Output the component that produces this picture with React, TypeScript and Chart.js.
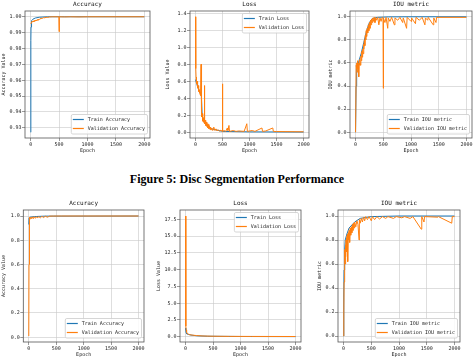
import React, { useEffect, useRef } from 'react';
import { Chart, registerables } from 'chart.js';

Chart.register(...registerables);

const MONO = "'DejaVu Sans Mono', monospace";
const BLUE = '#1f77b4';
const ORANGE = '#ff7f0e';

// ---------- shared ----------
const xTicks = [0, 500, 1000, 1500, 2000];
const caption = 'Figure 5: Disc Segmentation Performance';

// ---------- top row: accuracy ----------
const accTopTicks = [0.93, 0.94, 0.95, 0.96, 0.97, 0.98, 0.99, 1.0];
const accTopTrainEpoch = [0, 2, 4, 6, 10, 20, 40, 80, 150, 300, 600, 1000, 1500, 1999];
const accTopTrainValue = [0.9272, 0.962, 0.985, 0.9935, 0.9962, 0.9975, 0.9985, 0.9992, 0.9997, 1.0, 1.0, 1.0, 1.0, 1.0];
const accTopValEpoch = [4, 8, 14, 20, 28, 36, 44, 52, 60, 70, 80, 90, 100, 110, 120, 130, 140, 150, 165, 180, 195, 210, 230, 250, 270, 300, 330, 380, 450, 496, 500, 504, 600, 700, 850, 1000, 1300, 1999];
const accTopValValue = [0.9956, 0.9962, 0.9968, 0.9964, 0.997, 0.9967, 0.9973, 0.9969, 0.9976, 0.9971, 0.9978, 0.9974, 0.998, 0.9976, 0.9983, 0.9979, 0.9986, 0.9982, 0.9989, 0.9986, 0.9992, 0.999, 0.9995, 0.9993, 0.9997, 0.9996, 0.9999, 1.0, 1.0, 1.0, 0.9906, 1.0, 0.9999, 1.0, 0.9999, 1.0, 1.0, 1.0];

// ---------- top row: loss ----------
const lossTopTicks = [0.0, 0.2, 0.4, 0.6, 0.8, 1.0, 1.2, 1.4];
const lossTopTrainEpoch = [0, 20, 50, 80, 110, 125, 150, 200, 300, 500, 1000, 1999];
const lossTopTrainValue = [0.62, 0.58, 0.52, 0.47, 0.44, 0.2, 0.13, 0.08, 0.04, 0.01, 0.004, 0.002];
const lossTopValEpoch = [2, 5, 8, 12, 16, 20, 25, 30, 35, 40, 45, 50, 55, 60, 65, 70, 75, 80, 85, 90, 95, 100, 104, 107, 110, 115, 120, 125, 130, 135, 140, 145, 150, 155, 160, 165, 168, 175, 180, 190, 200, 210, 220, 230, 240, 250, 260, 270, 280, 290, 300, 320, 340, 360, 380, 400, 420, 450, 470, 495, 500, 505, 530, 560, 590, 600, 620, 630, 700, 750, 800, 900, 950, 960, 1050, 1100, 1230, 1240, 1300, 1430, 1440, 1500, 1999];
const lossTopValValue = [1.36, 1.0, 0.75, 0.65, 0.6, 0.63, 0.57, 0.6, 0.55, 0.58, 0.52, 0.55, 0.5, 0.53, 0.48, 0.5, 0.46, 0.49, 0.45, 0.47, 0.43, 0.45, 0.8, 0.42, 0.44, 0.3, 0.18, 0.22, 0.15, 0.2, 0.13, 0.17, 0.12, 0.15, 0.11, 0.55, 0.12, 0.1, 0.14, 0.08, 0.12, 0.07, 0.1, 0.05, 0.09, 0.04, 0.07, 0.03, 0.06, 0.03, 0.05, 0.02, 0.06, 0.02, 0.04, 0.015, 0.03, 0.01, 0.025, 0.01, 0.57, 0.01, 0.02, 0.01, 0.05, 0.02, 0.08, 0.01, 0.02, 0.01, 0.015, 0.01, 0.1, 0.01, 0.02, 0.01, 0.05, 0.01, 0.015, 0.05, 0.01, 0.008, 0.005];

// ---------- top row: IOU ----------
const iouTicks = [0.0, 0.2, 0.4, 0.6, 0.8, 1.0];
const iouTopTrainEpoch = [0, 10, 20, 50, 100, 150, 200, 250, 300, 400, 600, 1000, 1999];
const iouTopTrainValue = [0, 0.4, 0.55, 0.6, 0.68, 0.78, 0.88, 0.95, 0.985, 0.995, 0.999, 1.0, 1.0];
const iouTopValEpoch = [0, 8, 12, 18, 24, 30, 36, 42, 48, 55, 60, 65, 72, 80, 88, 96, 104, 112, 120, 128, 136, 144, 152, 160, 168, 176, 184, 192, 200, 210, 220, 230, 240, 250, 260, 270, 280, 290, 300, 310, 320, 335, 350, 365, 380, 400, 420, 440, 460, 480, 496, 500, 504, 530, 550, 580, 590, 620, 650, 700, 710, 760, 800, 850, 860, 920, 930, 1000, 1010, 1080, 1090, 1150, 1200, 1250, 1260, 1300, 1310, 1400, 1410, 1450, 1460, 1999];
const iouTopValValue = [0, 0, 0.58, 0.55, 0.6, 0.52, 0.62, 0.55, 0.6, 0.5, 0.48, 0.6, 0.58, 0.63, 0.58, 0.66, 0.62, 0.7, 0.65, 0.72, 0.68, 0.76, 0.72, 0.8, 0.75, 0.84, 0.8, 0.88, 0.83, 0.9, 0.86, 0.93, 0.88, 0.95, 0.9, 0.97, 0.93, 0.98, 0.95, 0.99, 0.96, 0.995, 0.95, 0.99, 0.97, 0.995, 0.93, 0.99, 0.96, 0.995, 0.99, 0.38, 0.99, 0.95, 0.995, 0.9, 0.99, 0.96, 0.995, 0.93, 0.99, 0.97, 0.995, 0.95, 0.99, 0.9, 0.995, 0.96, 0.99, 0.94, 0.995, 0.97, 0.995, 0.93, 0.99, 0.97, 0.995, 0.93, 0.99, 0.95, 0.995, 0.995];

// ---------- bottom row: accuracy ----------
const accBotTicks = [0.0, 0.2, 0.4, 0.6, 0.8, 1.0];
const accBotTrainEpoch = [0, 5, 20, 100, 300, 1999];
const accBotTrainValue = [0.93, 0.985, 0.99, 0.995, 0.999, 1.0];
const accBotValEpoch = [0, 4, 6, 12, 20, 30, 40, 55, 70, 85, 100, 120, 140, 160, 180, 210, 240, 270, 300, 340, 380, 450, 600, 1000, 1999];
const accBotValValue = [0.01, 0.6, 0.985, 0.975, 0.99, 0.976, 0.991, 0.978, 0.993, 0.979, 0.994, 0.981, 0.995, 0.983, 0.996, 0.985, 0.997, 0.987, 0.998, 0.99, 0.999, 0.9995, 1.0, 1.0, 1.0];

// ---------- bottom row: loss ----------
const lossBotTicks = [0.0, 2.5, 5.0, 7.5, 10.0, 12.5, 15.0, 17.5];
const lossBotTrainEpoch = [0, 5, 10, 20, 50, 100, 200, 400, 1000, 1999];
const lossBotTrainValue = [1.3, 1.0, 0.6, 0.45, 0.35, 0.25, 0.15, 0.08, 0.04, 0.02];
const lossBotValEpoch = [2, 4, 6, 8, 12, 20, 30, 50, 80, 120, 200, 300, 500, 800, 1200, 1999];
const lossBotValValue = [18.0, 8.0, 3.0, 1.6, 1.0, 0.7, 0.5, 0.4, 0.3, 0.25, 0.18, 0.12, 0.08, 0.06, 0.05, 0.04];

// ---------- bottom row: IOU ----------
const iouBotTrainEpoch = [0, 5, 10, 20, 30, 60, 100, 200, 300, 500, 1000, 1999];
const iouBotTrainValue = [0, 0.35, 0.55, 0.72, 0.8, 0.85, 0.9, 0.95, 0.98, 0.995, 1.0, 1.0];
const iouBotValEpoch = [0, 5, 10, 15, 20, 25, 30, 35, 40, 45, 50, 55, 60, 65, 70, 75, 80, 85, 90, 100, 110, 120, 130, 140, 150, 160, 170, 180, 190, 200, 220, 240, 260, 280, 285, 300, 320, 340, 360, 380, 400, 430, 460, 500, 520, 560, 600, 650, 700, 760, 800, 900, 950, 1050, 1100, 1200, 1250, 1400, 1410, 1450, 1460, 1700, 1710, 1950, 1960, 1999];
const iouBotValValue = [0, 0.2, 0.45, 0.6, 0.53, 0.72, 0.6, 0.76, 0.66, 0.8, 0.7, 0.82, 0.72, 0.84, 0.74, 0.85, 0.62, 0.86, 0.8, 0.88, 0.78, 0.9, 0.84, 0.91, 0.86, 0.93, 0.88, 0.94, 0.9, 0.95, 0.91, 0.96, 0.93, 0.8, 0.97, 0.94, 0.98, 0.95, 0.99, 0.96, 0.995, 0.97, 0.995, 0.96, 0.995, 0.97, 0.995, 0.975, 0.995, 0.98, 0.995, 0.98, 0.995, 0.985, 0.995, 0.98, 0.995, 0.89, 0.995, 0.95, 0.995, 0.99, 0.995, 0.94, 0.995, 0.995];

type Series = { x: number[]; y: number[] };
type Panel = {
  left: number; top: number; width: number; height: number;
  padRight: number; yWidth: number; yTitleOffset: number; xHeight: number;
  title: string; yTitle: string; yMin: number; yMax: number;
  yTicks: number[]; yDecimals: number;
  train: Series; val: Series; trainLabel: string; valLabel: string;
  legendLoc: 'lr' | 'ur';
};

const panels: Panel[] = [
  {
    left: 0, top: 0, width: 157.5, height: 154.5, padRight: 8, yWidth: 25, yTitleOffset: 4, xHeight: 17,
    title: 'Accuracy', yTitle: 'Accuracy Value', yMin: 0.92356, yMax: 1.00364, yTicks: accTopTicks, yDecimals: 2,
    train: { x: accTopTrainEpoch, y: accTopTrainValue }, val: { x: accTopValEpoch, y: accTopValValue },
    trainLabel: 'Train Accuracy', valLabel: 'Validation Accuracy', legendLoc: 'lr',
  },
  {
    left: 160, top: 0, width: 157, height: 154.5, padRight: 8, yWidth: 30, yTitleOffset: 8, xHeight: 17,
    title: 'Loss', yTitle: 'Loss Value', yMin: -0.068, yMax: 1.428, yTicks: lossTopTicks, yDecimals: 1,
    train: { x: lossTopTrainEpoch, y: lossTopTrainValue }, val: { x: lossTopValEpoch, y: lossTopValValue },
    trainLabel: 'Train Loss', valLabel: 'Validation Loss', legendLoc: 'ur',
  },
  {
    left: 325, top: 0, width: 149, height: 154.5, padRight: 2, yWidth: 25, yTitleOffset: 5.7, xHeight: 17,
    title: 'IOU metric', yTitle: 'IOU metric', yMin: -0.05, yMax: 1.05, yTicks: iouTicks, yDecimals: 1,
    train: { x: iouTopTrainEpoch, y: iouTopTrainValue }, val: { x: iouTopValEpoch, y: iouTopValValue },
    trainLabel: 'Train IOU metric', valLabel: 'Validation IOU metric', legendLoc: 'lr',
  },
  {
    left: 0, top: 199, width: 152.3, height: 159.5, padRight: 8, yWidth: 23.3, yTitleOffset: 3.5, xHeight: 17,
    title: 'Accuracy', yTitle: 'Accuracy Value', yMin: -0.0395, yMax: 1.0495, yTicks: accBotTicks, yDecimals: 1,
    train: { x: accBotTrainEpoch, y: accBotTrainValue }, val: { x: accBotValEpoch, y: accBotValValue },
    trainLabel: 'Train Accuracy', valLabel: 'Validation Accuracy', legendLoc: 'lr',
  },
  {
    left: 155, top: 199, width: 153.7, height: 159.5, padRight: 8, yWidth: 25, yTitleOffset: 3.5, xHeight: 17,
    title: 'Loss', yTitle: 'Loss Value', yMin: -0.78, yMax: 18.9, yTicks: lossBotTicks, yDecimals: 1,
    train: { x: lossBotTrainEpoch, y: lossBotTrainValue }, val: { x: lossBotValEpoch, y: lossBotValValue },
    trainLabel: 'Train Loss', valLabel: 'Validation Loss', legendLoc: 'ur',
  },
  {
    left: 313.3, top: 199, width: 155.4, height: 159.5, padRight: 8, yWidth: 25, yTitleOffset: 6.7, xHeight: 17,
    title: 'IOU metric', yTitle: 'IOU metric', yMin: -0.05, yMax: 1.05, yTicks: iouTicks, yDecimals: 1,
    train: { x: iouBotTrainEpoch, y: iouBotTrainValue }, val: { x: iouBotValEpoch, y: iouBotValValue },
    trainLabel: 'Train IOU metric', valLabel: 'Validation IOU metric', legendLoc: 'lr',
  },
];

const toPoints = (s: Series) => s.x.map((x, i) => ({ x, y: s.y[i] }));

const framePlugin = {
  id: 'frame',
  afterDatasetsDraw(chart: any) {
    const { ctx, chartArea: a } = chart;
    ctx.save();
    ctx.strokeStyle = '#555';
    ctx.lineWidth = 0.8;
    ctx.strokeRect(a.left, a.top, a.right - a.left, a.bottom - a.top);
    ctx.restore();
  },
};

const mplLegendPlugin = {
  id: 'mplLegend',
  afterDraw(chart: any, _args: any, opts: any) {
    const { ctx, chartArea: a } = chart;
    const items: { label: string; color: string }[] = opts.items || [];
    ctx.save();
    ctx.font = `5px ${MONO}`;
    let tw = 0;
    items.forEach((it) => { tw = Math.max(tw, ctx.measureText(it.label).width); });
    const w = 1.5 + 11 + 4 + tw + 2.5;
    const h = 19.5;
    const x = a.right - 2.5 - w;
    const y = opts.loc === 'ur' ? a.top + 2.5 : a.bottom - 4 - h;
    ctx.fillStyle = 'rgba(255,255,255,0.85)';
    ctx.strokeStyle = '#cccccc';
    ctx.lineWidth = 0.8;
    ctx.beginPath();
    if (ctx.roundRect) ctx.roundRect(x, y, w, h, 1.5); else ctx.rect(x, y, w, h);
    ctx.fill();
    ctx.stroke();
    items.forEach((it, i) => {
      const ry = y + 5 + i * 9;
      ctx.strokeStyle = it.color;
      ctx.lineWidth = 1.2;
      ctx.beginPath();
      ctx.moveTo(x + 1.5, ry);
      ctx.lineTo(x + 12.5, ry);
      ctx.stroke();
      ctx.fillStyle = '#222';
      ctx.textBaseline = 'middle';
      ctx.textAlign = 'left';
      ctx.fillText(it.label, x + 16.5, ry);
    });
    ctx.restore();
  },
};

function PanelChart({ p }: { p: Panel }) {
  const ref = useRef<HTMLCanvasElement>(null);
  useEffect(() => {
    if (!ref.current) return;
    const tickFont = { family: MONO, size: 5, lineHeight: 1.2 };
    const chart = new Chart(ref.current, {
      type: 'line',
      data: {
        datasets: [
          { label: p.trainLabel, data: toPoints(p.train), borderColor: BLUE, borderWidth: 1, pointRadius: 0, tension: 0, order: 1 },
          { label: p.valLabel, data: toPoints(p.val), borderColor: ORANGE, borderWidth: 1, pointRadius: 0, tension: 0, order: 0 },
        ],
      },
      options: {
        animation: false,
        responsive: false,
        devicePixelRatio: 1,
        events: [],
        layout: { padding: { left: 0, top: 0, right: p.padRight, bottom: 0 } },
        plugins: {
          legend: { display: false },
          tooltip: { enabled: false },
          title: {
            display: true, text: p.title, color: '#111', fullSize: false,
            font: { family: MONO, size: 6, weight: 'normal', lineHeight: 1 },
            padding: { top: 1, bottom: 4 },
          },
          mplLegend: {
            loc: p.legendLoc,
            items: [{ label: p.trainLabel, color: BLUE }, { label: p.valLabel, color: ORANGE }],
          },
        } as any,
        scales: {
          x: {
            type: 'linear', min: -100, max: 2099,
            afterBuildTicks: (s: any) => { s.ticks = xTicks.map((v) => ({ value: v })); },
            afterFit: (s: any) => { s.height = p.xHeight; },
            grid: { color: '#c8c8c8', lineWidth: 0.6, tickLength: 3, tickColor: '#555', tickWidth: 0.6 },
            border: { display: false },
            ticks: { font: tickFont, color: '#222', padding: 1, maxRotation: 0, autoSkip: false, callback: (v: any) => String(v) },
            title: { display: true, text: 'Epoch', font: tickFont, color: '#222', padding: { top: 0, bottom: 1 } },
          },
          y: {
            type: 'linear', min: p.yMin, max: p.yMax,
            afterBuildTicks: (s: any) => { s.ticks = p.yTicks.map((v) => ({ value: v })); },
            afterFit: (s: any) => { s.width = p.yWidth; },
            grid: { color: '#c8c8c8', lineWidth: 0.6, tickLength: 3, tickColor: '#555', tickWidth: 0.6 },
            border: { display: false },
            ticks: { font: tickFont, color: '#222', padding: 0.5, autoSkip: false, callback: (v: any) => Number(v).toFixed(p.yDecimals) },
            title: { display: true, text: p.yTitle, font: tickFont, color: '#222', padding: { top: Math.max(0, p.yTitleOffset - 3), bottom: 0 } },
          },
        },
      } as any,
      plugins: [framePlugin, mplLegendPlugin],
    });
    return () => chart.destroy();
  }, [p]);
  return (
    <canvas
      ref={ref}
      width={Math.round(p.width)}
      height={Math.round(p.height)}
      style={{ position: 'absolute', left: p.left, top: p.top, width: Math.round(p.width), height: Math.round(p.height) }}
    />
  );
}

export default function App() {
  return (
    <div style={{ position: 'absolute', left: 0, top: 0, width: 474, height: 359, background: '#fff', overflow: 'hidden' }}>
      {panels.map((p, i) => <PanelChart key={i} p={p} />)}
      <div
        style={{
          position: 'absolute', left: 0, top: 172, width: 474, textAlign: 'center',
          fontFamily: "'Liberation Serif', 'Times New Roman', serif", fontWeight: 'bold',
          fontSize: '12px', lineHeight: '14px', color: '#000',
        }}
      >
        {caption}
      </div>
    </div>
  );
}
